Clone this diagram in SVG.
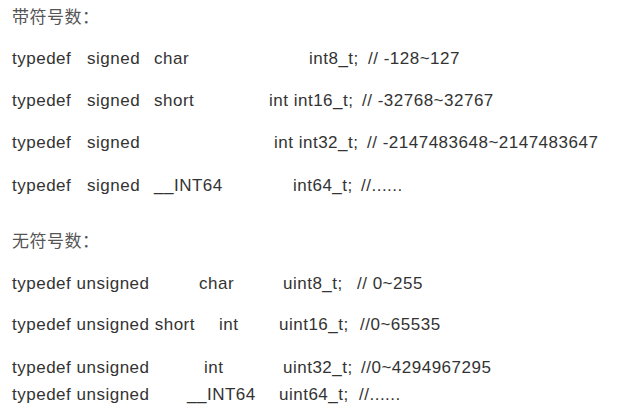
<svg xmlns="http://www.w3.org/2000/svg" width="622" height="416" viewBox="0 0 622 416">
<style>
text{font-family:"Liberation Sans","Noto Sans CJK SC",sans-serif;font-size:17px;letter-spacing:0.5px;fill:#333}
.h{fill:#555}
</style>
<rect width="622" height="416" fill="#fff"/>
<text class="h" x="12" y="23">带符号数：</text>
<g id="r1"><text x="12" y="64">typedef</text><text x="87" y="64">signed</text><text x="154" y="64">char</text><text x="309" y="64">int8_t;</text><text x="368" y="64">// -128~127</text></g>
<g id="r2"><text x="12" y="106">typedef</text><text x="87" y="106">signed</text><text x="154" y="106">short</text><text x="269" y="106">int int16_t;</text><text x="362" y="106">// -32768~32767</text></g>
<g id="r3"><text x="12" y="148">typedef</text><text x="87" y="148">signed</text><text x="274" y="148">int int32_t;</text><text x="367" y="148">// -2147483648~2147483647</text></g>
<g id="r4"><text x="12" y="191">typedef</text><text x="87" y="191">signed</text><text x="154" y="191">__INT64</text><text x="293" y="191">int64_t;</text><text x="361" y="191">//......</text></g>
<text class="h" x="12" y="247">无符号数：</text>
<g id="r5"><text x="12" y="289">typedef unsigned</text><text x="199" y="289">char</text><text x="283" y="289">uint8_t;</text><text x="357" y="289">// 0~255</text></g>
<g id="r6"><text x="12" y="330">typedef unsigned short</text><text x="219" y="330">int</text><text x="279" y="330">uint16_t;</text><text x="360" y="330">//0~65535</text></g>
<g id="r7"><text x="12" y="373">typedef unsigned</text><text x="204" y="373">int</text><text x="283" y="373">uint32_t;</text><text x="361" y="373">//0~4294967295</text></g>
<g id="r8"><text x="12" y="400">typedef unsigned</text><text x="187" y="400">__INT64</text><text x="279" y="400">uint64_t;</text><text x="359" y="400">//......</text></g>
<g id="connectors"/>
</svg>
